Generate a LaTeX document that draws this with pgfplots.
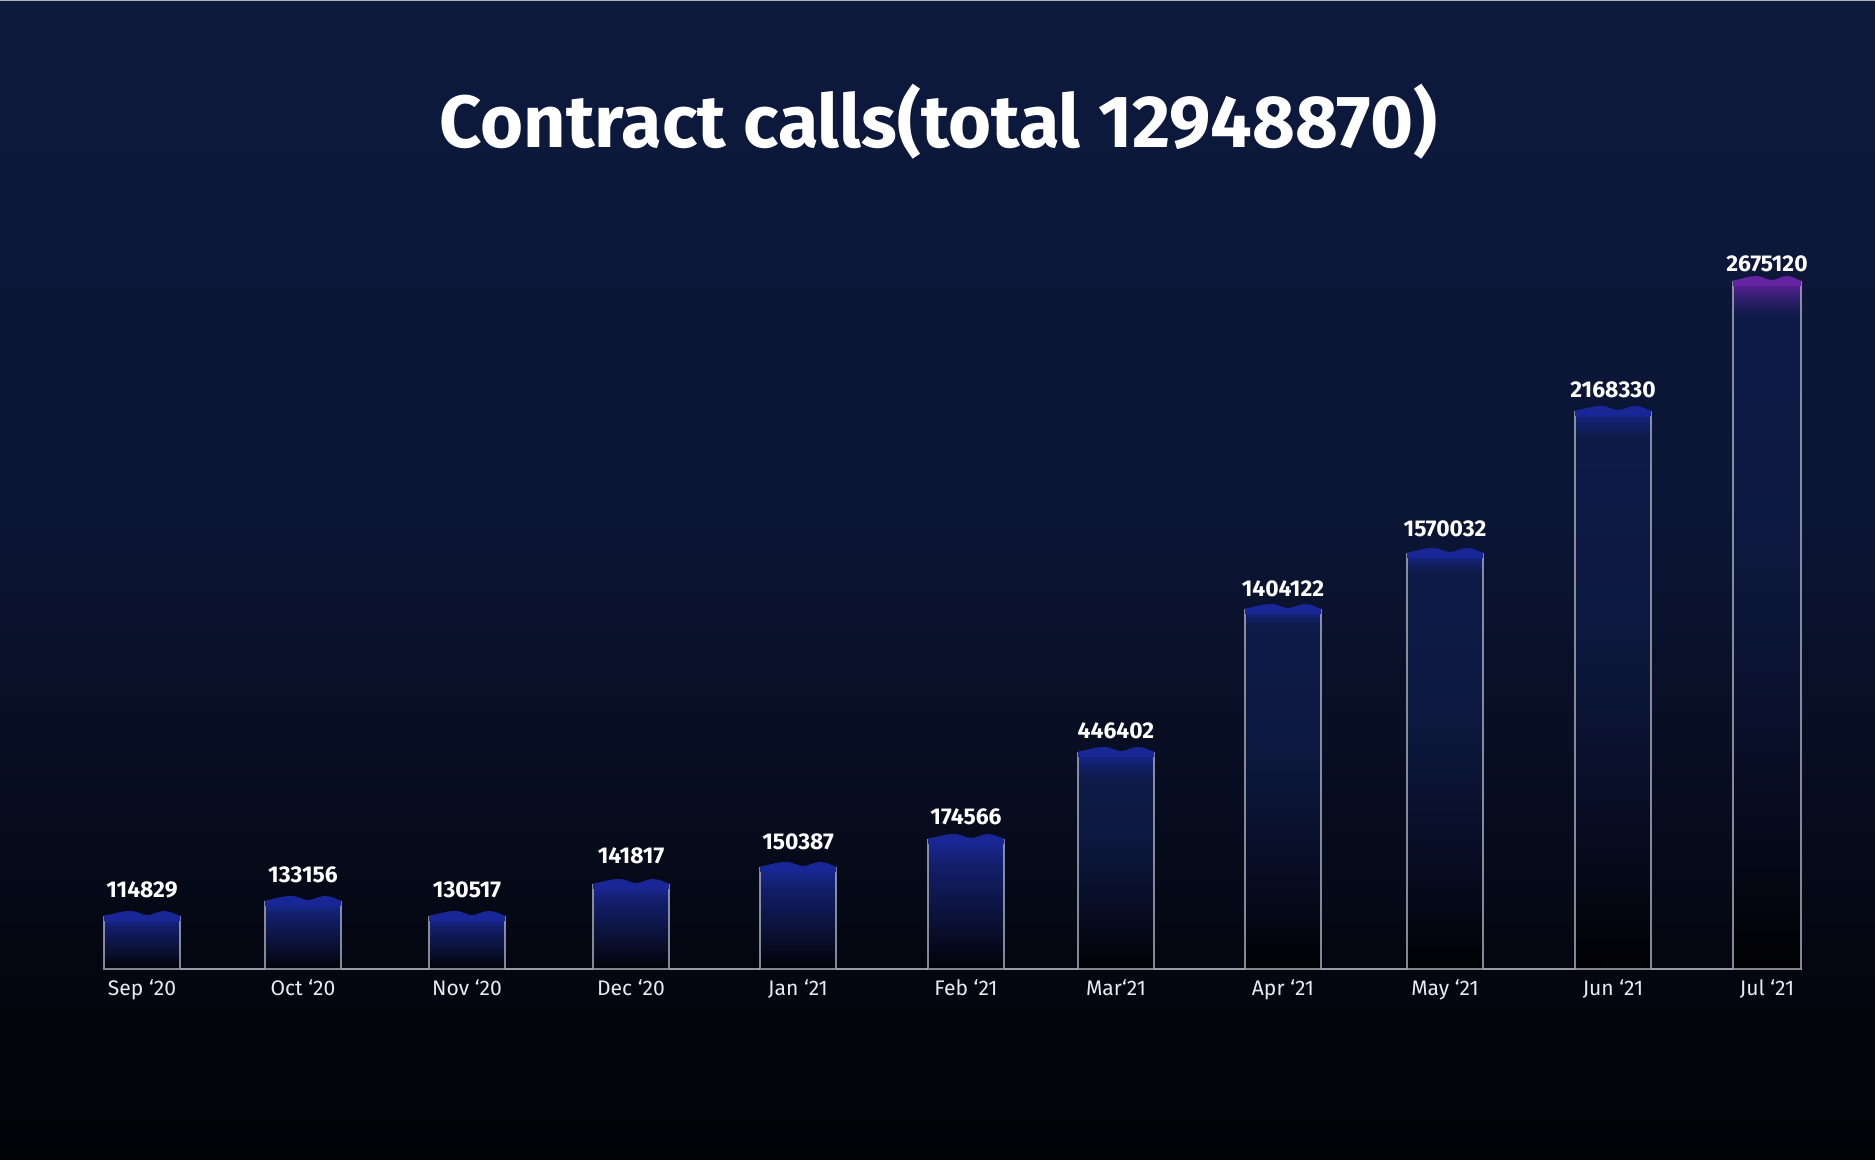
\documentclass[border=0pt]{standalone}
\usepackage{pgfplots}
\usepackage{pgfplotstable}
\pgfplotsset{compat=1.18}
\usepackage{fontspec}
\setmainfont{Fira Sans}

\definecolor{bgA}{RGB}{13,26,62}
\definecolor{bgB}{RGB}{11,21,52}
\definecolor{bgC}{RGB}{7,12,30}
\definecolor{bgD}{RGB}{3,5,12}
\definecolor{bgE}{RGB}{2,3,7}
\definecolor{sA}{RGB}{2,2,8}
\definecolor{sB}{RGB}{10,16,50}
\definecolor{sC}{RGB}{18,30,105}
\definecolor{sD}{RGB}{26,40,150}
\definecolor{tA}{RGB}{1,1,4}
\definecolor{tB}{RGB}{8,14,38}
\definecolor{tC}{RGB}{12,24,62}
\definecolor{tD}{RGB}{14,27,72}
\definecolor{tE}{RGB}{18,32,110}
\definecolor{tF}{RGB}{24,38,145}
\definecolor{pE}{RGB}{55,30,115}
\definecolor{pF}{RGB}{95,32,155}
\definecolor{waveblue}{RGB}{24,38,150}
\definecolor{wavepurple}{RGB}{100,35,160}
\definecolor{barborder}{RGB}{175,180,192}
\definecolor{axisgray}{RGB}{150,155,165}
\definecolor{ticktext}{RGB}{232,234,240}

% TikZ maps a path's bounding box onto the 25bp..75bp band of a 100bp shading
\pgfdeclareverticalshading{bgshade}{100bp}{color(0bp)=(bgE); color(25bp)=(bgE); color(31bp)=(bgD); color(40bp)=(bgC); color(52.5bp)=(bgB); color(75bp)=(bgA); color(100bp)=(bgA)}
\pgfdeclareverticalshading{shortshade}{100bp}{color(0bp)=(sA); color(25bp)=(sA); color(42.5bp)=(sB); color(65bp)=(sC); color(75bp)=(sD); color(100bp)=(sD)}
\pgfdeclareverticalshading{midshade}{100bp}{color(0bp)=(tA); color(25bp)=(tA); color(40bp)=(tB); color(55bp)=(tC); color(69bp)=(tD); color(72.5bp)=(tE); color(75bp)=(tF); color(100bp)=(tF)}
\pgfdeclareverticalshading{tallshade}{100bp}{color(0bp)=(tA); color(25bp)=(tA); color(40bp)=(tB); color(55bp)=(tC); color(72.8bp)=(tD); color(74.2bp)=(tE); color(75bp)=(tF); color(100bp)=(tF)}
\pgfdeclareverticalshading{julshade}{100bp}{color(0bp)=(tA); color(25bp)=(tA); color(40bp)=(tB); color(55bp)=(tC); color(72.6bp)=(tD); color(74bp)=(pE); color(75bp)=(pF); color(100bp)=(pF)}

\pgfdeclareplotmark{wave}{%
  \pgfpathmoveto{\pgfpoint{-0.38cm}{-0.04cm}}%
  \pgfpathlineto{\pgfpoint{-0.38cm}{0.015cm}}%
  \pgfpathcurveto{\pgfpoint{-0.30cm}{0.025cm}}{\pgfpoint{-0.22cm}{0.06cm}}{\pgfpoint{-0.12cm}{0.06cm}}%
  \pgfpathcurveto{\pgfpoint{-0.04cm}{0.06cm}}{\pgfpoint{-0.01cm}{0.02cm}}{\pgfpoint{0.05cm}{0.02cm}}%
  \pgfpathcurveto{\pgfpoint{0.11cm}{0.02cm}}{\pgfpoint{0.15cm}{0.06cm}}{\pgfpoint{0.22cm}{0.06cm}}%
  \pgfpathcurveto{\pgfpoint{0.29cm}{0.06cm}}{\pgfpoint{0.33cm}{0.025cm}}{\pgfpoint{0.38cm}{0.015cm}}%
  \pgfpathlineto{\pgfpoint{0.38cm}{-0.04cm}}%
  \pgfpathclose
  \pgfusepath{fill}%
}

% x = bar centre (px), h = drawn bar height (px), ly = label baseline (px above axis)
\pgfplotstableread{
x    h    ly   label
142  52   72   114829
303  67   87   133156
467  52   72   130517
631  84   106  141817
798  101  120  150387
966  129  145  174566
1116 216  231  446402
1283 359  373  1404122
1445 415  433  1570032
1613 557  572  2168330
1767 687  698  2675120
}\calls

\pgfplotsset{onebar/.style n args={3}{ybar, bar width=0.76cm, bar shift=0pt, draw=barborder, draw opacity=0.75, line width=0.022cm, shade, shading=#3, skip coords between index={0}{#1}, skip coords between index={#2}{11}}}

\begin{document}
\begin{tikzpicture}
\shade[shading=bgshade] (0,0) rectangle (18.75,11.59);
\draw[color=gray!60!white, line width=0.012cm] (0,11.584) -- (18.75,11.584);
\node[anchor=base, text=white, font=\fontsize{21}{25}\selectfont\bfseries] at (9.385,10.12) {Contract calls(total 12948870)};
\begin{axis}[
  at={(1.05cm,1.90cm)}, anchor=south west,
  scale only axis, width=16.97cm, height=7cm,
  xmin=105, xmax=1802, ymin=0, ymax=700,
  clip=false,
  axis x line*=bottom, axis y line=none,
  x axis line style={-, color=axisgray, line width=0.02cm},
  xtick={142,303,467,631,798,966,1116,1283,1445,1613,1767},
  xticklabels={Sep ‘20,Oct ‘20,Nov ‘20,Dec ‘20,Jan ‘21,Feb ‘21,Mar‘21,Apr ‘21,May ‘21,Jun ‘21,Jul ‘21},
  xtick style={draw=none},
  major tick length=0pt,
  xticklabel style={anchor=base, yshift=-0.26cm, text=ticktext, font=\fontsize{6}{7}\selectfont},
  ytick=\empty,
]
\addplot[onebar={0}{1}{shortshade}] table[x=x, y=h]{\calls};
\addplot[onebar={1}{2}{shortshade}] table[x=x, y=h]{\calls};
\addplot[onebar={2}{3}{shortshade}] table[x=x, y=h]{\calls};
\addplot[onebar={3}{4}{shortshade}] table[x=x, y=h]{\calls};
\addplot[onebar={4}{5}{shortshade}] table[x=x, y=h]{\calls};
\addplot[onebar={5}{6}{shortshade}] table[x=x, y=h]{\calls};
\addplot[onebar={6}{7}{midshade}] table[x=x, y=h]{\calls};
\addplot[onebar={7}{8}{tallshade}] table[x=x, y=h]{\calls};
\addplot[onebar={8}{9}{tallshade}] table[x=x, y=h]{\calls};
\addplot[onebar={9}{10}{tallshade}] table[x=x, y=h]{\calls};
\addplot[onebar={10}{11}{julshade}, bar width=0.68cm] table[x=x, y=h]{\calls};
\addplot[only marks, mark=wave, mark options={fill=waveblue, draw=none}, skip coords between index={10}{11}] table[x=x, y=h]{\calls};
\addplot[only marks, mark=wave, mark options={fill=wavepurple, draw=none, xscale=0.895}, skip coords between index={0}{10}] table[x=x, y=h]{\calls};
\addplot[only marks, mark=none, nodes near coords, point meta=explicit symbolic,
  every node near coord/.style={anchor=base, text=white, font=\fontsize{6.5}{7.5}\selectfont\bfseries, inner sep=0pt}]
  table[x=x, y=ly, meta=label]{\calls};
\end{axis}
\pgfresetboundingbox
\path[use as bounding box] (0,0) rectangle (18.75,11.59);
\end{tikzpicture}
\end{document}
